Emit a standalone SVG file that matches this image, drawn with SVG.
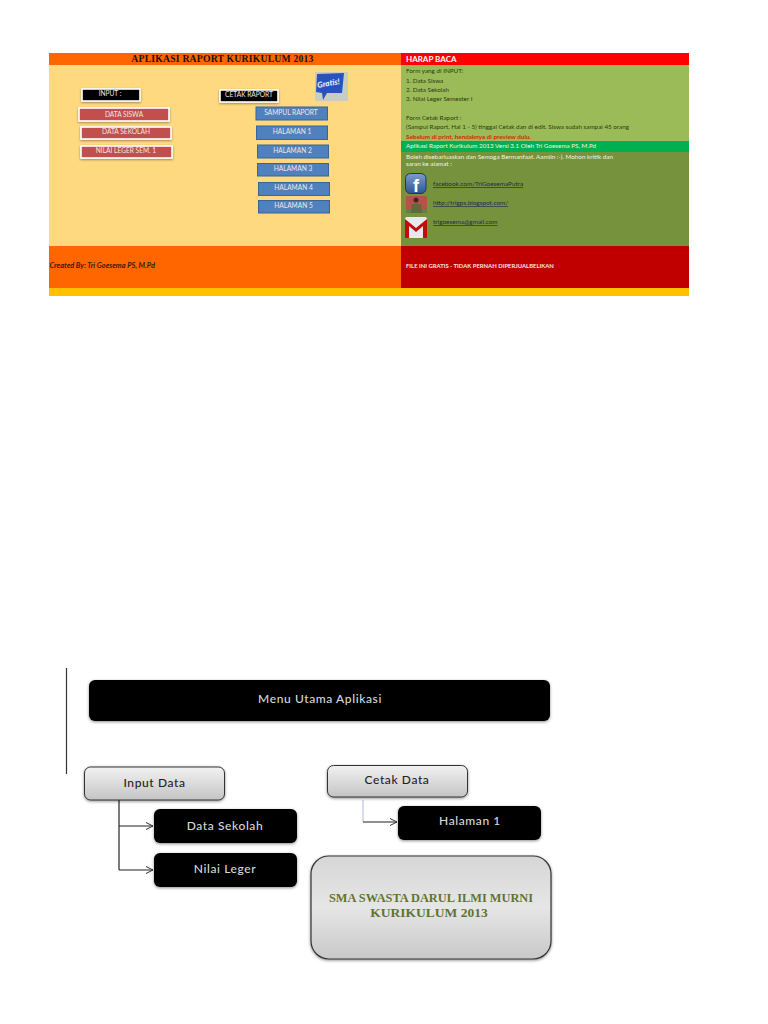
<svg xmlns="http://www.w3.org/2000/svg" width="768" height="1024" viewBox="0 0 768 1024">
<style>
text{font-family:Lato,"Liberation Sans",sans-serif}
.s{font-size:6.6px;fill:#f2e6e6;text-anchor:middle}
.f{font-size:6.3px;fill:#2d3a12}
.w{font-size:6.3px;fill:#f0f3e0}
.l{font-size:6.400px;fill:#1c2a50;text-decoration:underline}
.blk{fill:#000;stroke:#fff;stroke-width:1.6;filter:url(#sh)}
.red{fill:#c0504d;stroke:#fff;stroke-width:1.6;filter:url(#sh)}
.blu{fill:#4f81bd;stroke:#3b6596;stroke-width:1}
.big{fill:#000;filter:url(#sh2)}
.gry{fill:url(#g);stroke:#333;stroke-width:1;filter:url(#sh2)}
.bt{font-size:12px;letter-spacing:.6px;fill:#d8d8d8;text-anchor:middle;font-weight:500}
.gt{font-size:12px;letter-spacing:.6px;fill:#222;text-anchor:middle;font-weight:500}
.c{fill:none;stroke:#222;stroke-width:1.2}
</style>
<defs>
<linearGradient id="g" x1="0" y1="0" x2="0" y2="1"><stop offset="0" stop-color="#f2f2f2"/><stop offset="1" stop-color="#c4c4c4"/></linearGradient>
<linearGradient id="g2" x1="0" y1="0" x2="0" y2="1"><stop offset="0" stop-color="#d6d6d6"/><stop offset=".5" stop-color="#e6e6e6"/><stop offset="1" stop-color="#c8c8c8"/></linearGradient>
<linearGradient id="fb" x1="0" y1="0" x2="0" y2="1"><stop offset="0" stop-color="#7d9cc9"/><stop offset="1" stop-color="#2f5597"/></linearGradient>
<filter id="sh" x="-10%" y="-30%" width="120%" height="170%"><feDropShadow dx="0" dy="1" stdDeviation="1" flood-color="#000" flood-opacity=".4"/></filter>
<filter id="sh2" x="-5%" y="-15%" width="110%" height="130%"><feDropShadow dx="0" dy="1" stdDeviation="1.5" flood-color="#000" flood-opacity=".45"/></filter>
<marker id="a" markerWidth="9" markerHeight="8" refX="8" refY="4" orient="auto" markerUnits="userSpaceOnUse"><path d="M1 .5L8 4L1 7.5" fill="none" stroke="#333" stroke-width="1"/></marker>
</defs>

<g id="panel">
<rect x="49" y="53" width="352" height="12" fill="#ff6600"/>
<rect x="49" y="65" width="352" height="181" fill="#ffd97f"/>
<rect x="49" y="246" width="352" height="42" fill="#ff6600"/>
<rect x="49" y="288" width="640" height="8" fill="#ffc000"/>
<rect x="401" y="53" width="288" height="12" fill="#ff0000"/>
<rect x="401" y="65" width="288" height="76" fill="#9bbb59"/>
<rect x="401" y="141" width="288" height="11" fill="#00b050"/>
<rect x="401" y="152" width="288" height="94" fill="#76923c"/>
<rect x="401" y="246" width="288" height="42" fill="#c00000"/>
<text x="222.500" y="62" text-anchor="middle" style="font-family:'Liberation Serif',serif;font-size:9.700px;font-weight:700;letter-spacing:.2px" fill="#1a1200">APLIKASI RAPORT KURIKULUM 2013</text>
<text x="406" y="62" style="font-size:8px;font-weight:700" fill="#fff">HARAP BACA</text>
<text x="406" y="73" class="f">Form yang di INPUT:</text>
<text x="406" y="83" class="f">1. Data Siswa</text>
<text x="406" y="92" class="f">2. Data Sekolah</text>
<text x="406" y="101" class="f">3. Nilai Leger Semester I</text>
<text x="406" y="120" class="f">Form Cetak Raport :</text>
<text x="406" y="129" class="f">(Sampul Raport, Hal 1 - 5) tinggal Cetak dan di edit. Siswa sudah sampai 45 orang</text>
<text x="406" y="139" style="font-size:6.300px;font-weight:700" fill="#d62a00">Sebelum di print, hendaknya di preview dulu.</text>
<text x="406" y="148" class="w">Aplikasi Raport Kurikulum 2013 Versi 3.1 Oleh Tri Goesema PS, M.Pd</text>
<text x="406" y="159" class="w">Boleh disebarluaskan dan Semoga Bermanfaat. Aamiin :-). Mohon kritik dan</text>
<text x="406" y="166" class="w">saran ke alamat :</text>
<text x="433" y="186" class="l">facebook.com/TriGoesemaPutra</text>
<text x="433" y="205" class="l">http://trigps.blogspot.com/</text>
<text x="433" y="224" class="l">trigoesema@gmail.com</text>
<text x="49.500" y="268" style="font-size:7.400px;font-weight:700;font-style:italic" fill="#3a1a00">Created By: Tri Goesema PS, M.Pd</text>
<text x="406" y="268" style="font-size:5.900px;font-weight:700" fill="#f5e6e0">FILE INI GRATIS - TIDAK PERNAH DIPERJUALBELIKAN</text>
</g>

<g id="icon-gratis">
<rect x="315" y="72" width="33" height="29" fill="#c9cdc0"/>
<path d="M317 74L344 73L342 93L327 93L323 100L322 93L316 92Z" fill="#2a52be"/>
<text x="329" y="86" text-anchor="middle" transform="rotate(-10 329 86)" style="font-size:8px;font-weight:900;font-style:italic" fill="#e8eef8">Gratis!</text>
</g>
<g id="icon-facebook">
<rect x="405.500" y="173.500" width="20.500" height="20" rx="5" fill="url(#fb)" stroke="#22345c"/>
<text x="416" y="192" text-anchor="middle" style="font-family:'Liberation Sans',sans-serif;font-size:18px;font-weight:700" fill="#fff">f</text>
</g>
<g id="icon-photo">
<rect x="406" y="196" width="21" height="17" fill="#b5524a"/>
<rect x="406" y="209" width="21" height="4" fill="#6b7a4a"/>
<circle cx="416" cy="200" r="2.500" fill="#3c2a20"/>
<path d="M411 213L412 204L421 204L422 213Z" fill="#5f6a3a"/>
</g>
<g id="icon-gmail">
<rect x="405" y="217" width="22" height="21" rx="2" fill="#e8e8ee"/>
<path d="M405 219L416 228L427 219L427 238L423 238L423 226L416 232L409 226L409 238L405 238Z" fill="#c00d0d"/>
</g>

<g id="n-input"><rect class="blk" x="82" y="89" width="58" height="12"/><text class="s" x="110" y="96">INPUT :</text></g>
<g id="n-siswa"><rect class="red" x="79" y="108" width="90" height="13"/><text class="s" x="124" y="116.500">DATA SISWA</text></g>
<g id="n-sekolah"><rect class="red" x="81" y="127" width="90" height="12"/><text class="s" x="126" y="134">DATA SEKOLAH</text></g>
<g id="n-leger"><rect class="red" x="81" y="146" width="91" height="12"/><text class="s" x="126" y="153">NILAI LEGER SEM. 1</text></g>
<g id="n-cetak"><rect class="blk" x="220" y="90" width="58" height="12"/><text class="s" x="249" y="97">CETAK RAPORT</text></g>
<g id="n-sampul"><rect class="blu" x="256" y="107" width="71.500" height="13"/><text class="s" x="291" y="115">SAMPUL RAPORT</text></g>
<g id="n-h1"><rect class="blu" x="256.500" y="126" width="71" height="13.500"/><text class="s" x="292" y="134">HALAMAN 1</text></g>
<g id="n-h2"><rect class="blu" x="257.500" y="145" width="71" height="13"/><text class="s" x="292.500" y="153">HALAMAN 2</text></g>
<g id="n-h3"><rect class="blu" x="257.500" y="163.500" width="71" height="12.500"/><text class="s" x="293" y="171">HALAMAN 3</text></g>
<g id="n-h4"><rect class="blu" x="258.500" y="182.500" width="71" height="13"/><text class="s" x="293.500" y="190">HALAMAN 4</text></g>
<g id="n-h5"><rect class="blu" x="258.500" y="200.500" width="71" height="12.500"/><text class="s" x="293.500" y="208">HALAMAN 5</text></g>

<g id="rule"><path d="M66.500 668V774" stroke="#333" stroke-width="1.200" fill="none"/></g>

<g id="connectors">
<path class="c" d="M119 800V870"/>
<path class="c" d="M119 826H153" marker-end="url(#a)"/>
<path class="c" d="M119 870H153" marker-end="url(#a)"/>
<path d="M363 800V822" stroke="#b4c6e7" stroke-width="1.200" fill="none"/>
<path class="c" d="M363 822H397" marker-end="url(#a)"/>
</g>

<g id="n-menu"><rect class="big" x="89" y="680" width="461" height="41" rx="6"/><text class="bt" x="320" y="703">Menu Utama Aplikasi</text></g>
<g id="n-inputdata"><rect class="gry" x="84.500" y="767" width="140" height="33" rx="6"/><text class="gt" x="154.500" y="787">Input Data</text></g>
<g id="n-datasekolah"><rect class="big" x="154" y="809" width="143" height="34" rx="6"/><text class="bt" x="225" y="830">Data Sekolah</text></g>
<g id="n-nilaileger"><rect class="big" x="154" y="853" width="143" height="34" rx="6"/><text class="bt" x="225" y="873">Nilai Leger</text></g>
<g id="n-cetakdata"><rect class="gry" x="327.500" y="765.500" width="140" height="31.500" rx="6"/><text class="gt" x="397" y="784">Cetak Data</text></g>
<g id="n-halaman1"><rect class="big" x="398" y="806" width="143" height="34" rx="6"/><text class="bt" x="470" y="825">Halaman 1</text></g>
<g id="n-sma"><rect x="311" y="856" width="240" height="103" rx="18" fill="url(#g2)" stroke="#333" stroke-width="1.200" filter="url(#sh2)"/>
<text x="431" y="902" text-anchor="middle" textLength="204" lengthAdjust="spacingAndGlyphs" style="font-family:'Liberation Serif',serif;font-size:13.500px;font-weight:700" fill="#5f7530">SMA SWASTA DARUL ILMI MURNI</text>
<text x="429" y="917" text-anchor="middle" style="font-family:'Liberation Serif',serif;font-size:13.500px;font-weight:700" fill="#5f7530">KURIKULUM 2013</text></g>
</svg>
